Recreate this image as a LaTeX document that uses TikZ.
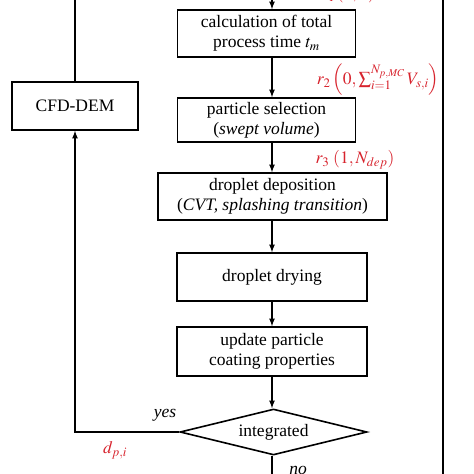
\documentclass[tikz,border=0pt]{standalone}
\usepackage{amsmath}
\usepackage{mathptmx}
\usepackage{fontspec}
\setmainfont{Liberation Serif}
\usetikzlibrary{shapes.geometric, positioning, arrows}
\definecolor{redlab}{RGB}{215,35,45}

\begin{document}
\begin{tikzpicture}
        [
            x=1pt, y=-1pt,
            every node/.style={font=\fontsize{17.5}{20}\selectfont},
            block/.style={draw, line width=1.6pt, align=center, inner sep=0pt},
            decide/.style={draw, diamond, aspect=4, line width=1.6pt, inner sep=0pt,
                minimum width=187pt, minimum height=46pt},
            flow/.style={line width=1.6pt, -latex},
            link/.style={line width=1.6pt},
            rlab/.style={text=redlab},
        ]
        \useasboundingbox (0,0) rectangle (474,474);
        \clip (0,0) rectangle (474,474);

        % main column
        \coordinate (axis) at (272,0);
        \node[block, minimum width=178pt, minimum height=47pt] (calc) at (266.5,33.5)
            {calculation of total\\process time $t_m$};
        \node[block, minimum width=178pt, minimum height=44pt] (select) at (266.5,120)
            {particle selection\\(\textit{swept volume})};
        \node[block, minimum width=229pt, minimum height=47pt] (depo) at (272.5,196.5)
            {droplet deposition\\(\textit{CVT, splashing transition})};
        \node[block, minimum width=190pt, minimum height=48pt] (dry) at (272,277)
            {droplet drying};
        \node[block, minimum width=190pt, minimum height=49pt] (update) at (272,351.5)
            {update particle\\coating properties};
        \node[decide] (check) at (273.5,432) {integrated};
        \node[block, minimum width=126pt, minimum height=48pt] (cfd) at (75,106)
            {CFD-DEM};

        % free ends
        \coordinate (top) at (272,0);
        \coordinate (bottom) at (272,474);
        \coordinate (loop) at (75,432);
        \coordinate (leftend) at (75,0);
        \coordinate (rtop) at (443,0);
        \coordinate (rbot) at (443,474);

        % connectors
        \draw[flow] (top) -- (calc.north -| axis);
        \draw[flow] (calc.south -| axis) -- (select.north -| axis);
        \draw[flow] (select.south -| axis) -- (depo.north -| axis);
        \draw[flow] (depo.south -| axis) -- (dry.north -| axis);
        \draw[flow] (dry.south -| axis) -- (update.north -| axis);
        \draw[flow] (update.south -| axis) -- (check.north -| axis);
        \draw[link] (check.south -| axis) -- (bottom);
        \draw[flow] (check.west) -- (loop) -- (cfd.south);
        \draw[link] (cfd.north) -- (leftend);
        \draw[link] (rtop) -- (rbot);

        % labels
        \node[rlab] (r1) at (348,-6) {$r_1\left(0,1\right)$};
        \node[rlab] (r2) at (378,80) {$r_2\left(0,\sum_{i=1}^{N_{p,MC}} V_{s,i}\right)$};
        \node[rlab] (r3) at (355,160) {$r_3\;(1,N_{dep})$};
        \node[rlab] (dpi) at (115,450) {$d_{p,i}$};
        \node (yes) at (165,415) {\textit{yes}};
        \node (no) at (298,470) {\textit{no}};
    \end{tikzpicture}
\end{document}
